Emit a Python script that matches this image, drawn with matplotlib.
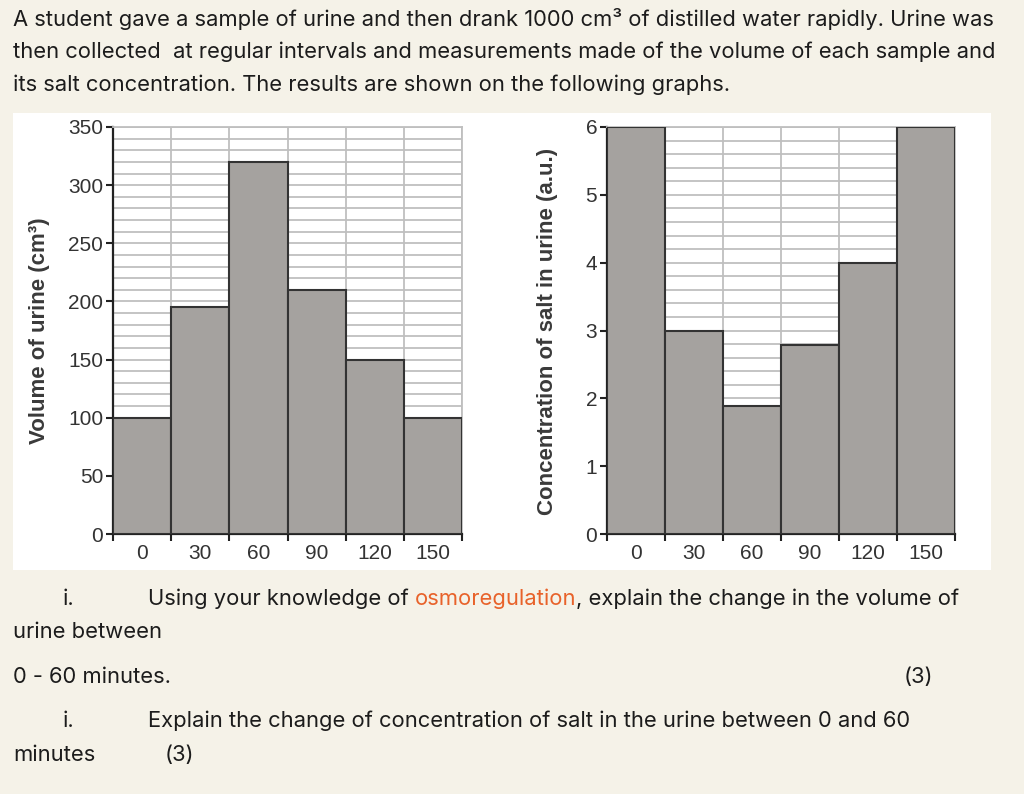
import matplotlib.pyplot as plt
from matplotlib.ticker import MultipleLocator
from matplotlib.patches import Rectangle

# data
times = ['0', '30', '60', '90', '120', '150']
volume = [100, 195, 320, 210, 150, 100]
salt = [6, 3, 1.88, 2.78, 4, 6]

W, H = 1024, 794
fig = plt.figure(figsize=(W / 100, H / 100), dpi=100)
fig.patch.set_facecolor('#f5f2e8')


def fx(px):
    return px / W


def fy(py):
    return 1 - py / H


# white panel behind the two graphs
fig.patches.append(Rectangle((fx(13), fy(570)), fx(991) - fx(13), fy(113) - fy(570),
                             transform=fig.transFigure, facecolor='white',
                             edgecolor='none', zorder=-5))

tick_font = dict(family='Liberation Sans', size=15, color='#333333')


def hist_panel(ax, values, top, major, minor):
    n = len(values)
    ax.bar(range(n), values, width=1, color='#a5a29f', edgecolor='#333333',
           linewidth=1.5, zorder=3)
    ax.set_xlim(-0.5, n - 0.5)
    ax.set_ylim(0, top)
    ax.set_facecolor('white')
    ax.set_xticks(range(n))
    ax.set_xticklabels(times, fontdict=tick_font)
    ax.set_xticks([i - 0.5 for i in range(n + 1)], minor=True)
    ax.tick_params(axis='x', which='major', length=0, pad=7)
    ax.tick_params(axis='x', which='minor', length=5, width=1.5, color='#222222')
    ax.yaxis.set_major_locator(MultipleLocator(major))
    ax.yaxis.set_minor_locator(MultipleLocator(minor))
    ax.tick_params(axis='y', which='major', length=5, width=1.5, color='#222222', pad=2)
    ax.tick_params(axis='y', which='minor', length=0)
    for lab in ax.get_yticklabels():
        lab.set_fontfamily('Liberation Sans')
        lab.set_fontsize(15)
        lab.set_color('#333333')
    ax.grid(True, which='both', axis='y', color='#bfbfbf', lw=1.3)
    ax.grid(True, which='minor', axis='x', color='#bfbfbf', lw=1.3)
    ax.set_axisbelow(True)
    for s in ['left', 'bottom']:
        ax.spines[s].set_color('#222222')
        ax.spines[s].set_linewidth(1.6)
    for s in ['top', 'right']:
        ax.spines[s].set_color('#bfbfbf')
        ax.spines[s].set_linewidth(1.3)


ax1 = fig.add_axes([fx(113), fy(534), fx(462) - fx(113), fy(127) - fy(534)])
hist_panel(ax1, volume, 350, 50, 10)
ax2 = fig.add_axes([fx(607), fy(534), fx(955) - fx(607), fy(127) - fy(534)])
hist_panel(ax2, salt, 6, 1, 0.2)

lab_font = dict(family='Liberation Sans', size=16, weight='bold', color='#3a3a3a',
                rotation=90, ha='center', va='center')
fig.text(fx(40), fy(331), 'Volume of urine (cm³)', **lab_font)
fig.text(fx(547), fy(331), 'Concentration of salt in urine (a.u.)', **lab_font)

# question text
txt = dict(family='Inter', size=15.8, color='#1c1c1c', va='center')
top_lines = [
    'A student gave a sample of urine and then drank 1000 cm³ of distilled water rapidly. Urine was',
    'then collected  at regular intervals and measurements made of the volume of each sample and',
    'its salt concentration. The results are shown on the following graphs.',
]
for i, line in enumerate(top_lines):
    fig.text(fx(13), fy(19 + 33 * i), line, **txt)

fig.text(fx(63), fy(599), 'i.', **txt)
renderer = fig.canvas.get_renderer()
t = fig.text(fx(148), fy(599), 'Using your knowledge of ', **txt)
x_end = t.get_window_extent(renderer).x1
t = fig.text(x_end / W, fy(599), 'osmoregulation', **dict(txt, color='#e8622a'))
x_end = t.get_window_extent(renderer).x1
fig.text(x_end / W, fy(599), ', explain the change in the volume of', **txt)
fig.text(fx(13), fy(632), 'urine between', **txt)
fig.text(fx(13), fy(677), '0 - 60 minutes.', **txt)
fig.text(fx(904), fy(677), '(3)', **txt)
fig.text(fx(63), fy(721), 'i.', **txt)
fig.text(fx(148), fy(721), 'Explain the change of concentration of salt in the urine between 0 and 60', **txt)
fig.text(fx(13), fy(755), 'minutes', **txt)
fig.text(fx(165), fy(755), '(3)', **txt)

fig.savefig('out.png', dpi=100, facecolor=fig.get_facecolor())
